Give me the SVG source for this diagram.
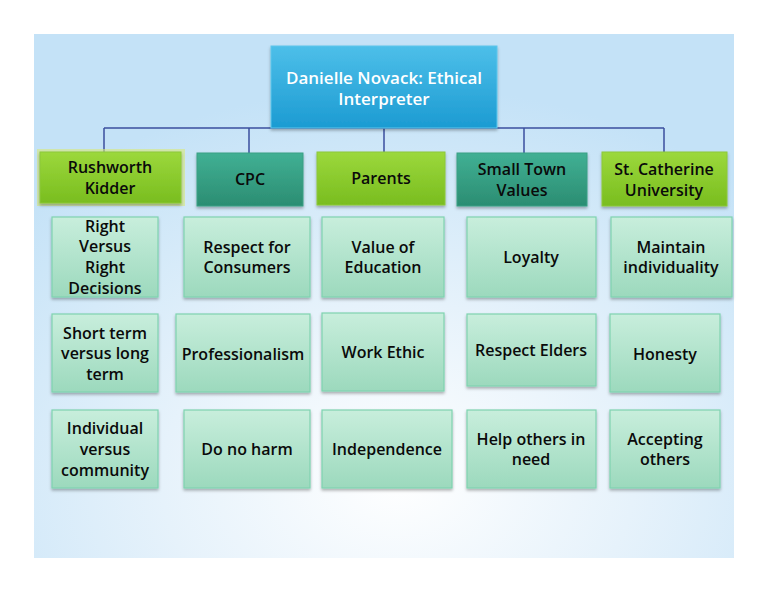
<svg xmlns="http://www.w3.org/2000/svg" width="768" height="594" viewBox="0 0 768 594">
<defs>
<radialGradient id="bg" cx="0.52" cy="0.85" r="0.75" fx="0.52" fy="0.85">
<stop offset="0" stop-color="#ffffff"/>
<stop offset="0.45" stop-color="#e6f2fb"/>
<stop offset="1" stop-color="#c4e2f7"/>
</radialGradient>
<linearGradient id="blue" x1="0" y1="0" x2="0" y2="1">
<stop offset="0" stop-color="#4dbfe9"/>
<stop offset="1" stop-color="#1c9bd2"/>
</linearGradient>
<linearGradient id="lime" x1="0" y1="0" x2="0" y2="1">
<stop offset="0" stop-color="#9cd83c"/>
<stop offset="1" stop-color="#79bd1f"/>
</linearGradient>
<linearGradient id="teal" x1="0" y1="0" x2="0" y2="1">
<stop offset="0" stop-color="#41b094"/>
<stop offset="1" stop-color="#2b8d72"/>
</linearGradient>
<linearGradient id="mint" x1="0" y1="0" x2="0" y2="1">
<stop offset="0" stop-color="#c8eedc"/>
<stop offset="1" stop-color="#9cd9bd"/>
</linearGradient>
<filter id="sh" x="-10%" y="-10%" width="120%" height="130%">
<feDropShadow dx="0" dy="2" stdDeviation="1.5" flood-color="#000" flood-opacity="0.3"/>
</filter>
</defs>
<style>
.t{font-family:"Open Sans","Noto Sans","DejaVu Sans",sans-serif;font-size:16px;font-weight:600;text-anchor:middle;dominant-baseline:central;fill:#0a0a0a}
.w{fill:#ffffff;font-size:17px;font-weight:600}
.top{fill:url(#blue);stroke:#5cc6ec;stroke-width:1;filter:url(#sh)}
.lime{fill:url(#lime);stroke:#8cc83a;stroke-width:1;filter:url(#sh)}
.teal{fill:url(#teal);stroke:#3a9f84;stroke-width:1;filter:url(#sh)}
.mint{fill:url(#mint);stroke:#7fd2b0;stroke-width:1.2;filter:url(#sh)}
.c{fill:none;stroke:#3b4f9e;stroke-width:1.5}
</style>
<rect x="34" y="34" width="700" height="524" fill="url(#bg)"/>
<g id="connectors">
<path class="c" d="M104 128 H664 M104 128 V152 M249 128 V153 M384 128 V152 M524 128 V153 M664 128 V152"/>
</g>
<g id="root">
<rect class="top" x="271" y="46" width="226" height="82"/>
<text class="t w" x="384" y="77">Danielle Novack: Ethical</text>
<text class="t w" x="384" y="98">Interpreter</text>
</g>
<g id="rushworth">
<rect x="37" y="149" width="148" height="57" fill="#d8ea7a" opacity="0.6"/>
<rect class="lime" x="40" y="152" width="141" height="51"/>
<text class="t" x="110" y="167">Rushworth</text>
<text class="t" x="110" y="188">Kidder</text>
</g>
<g id="cpc">
<rect class="teal" x="197" y="153" width="106" height="53"/>
<text class="t" x="250" y="179">CPC</text>
</g>
<g id="parents">
<rect class="lime" x="317" y="152" width="128" height="53"/>
<text class="t" x="381" y="178">Parents</text>
</g>
<g id="smalltown">
<rect class="teal" x="457" y="153" width="130" height="53"/>
<text class="t" x="522" y="169">Small Town</text>
<text class="t" x="522" y="190">Values</text>
</g>
<g id="stcatherine">
<rect class="lime" x="602" y="152" width="125" height="54"/>
<text class="t" x="664" y="169">St. Catherine</text>
<text class="t" x="664" y="190">University</text>
</g>
<g id="right-versus-right">
<rect class="mint" x="52" y="217" width="106" height="80"/>
<text class="t" x="105" y="226">Right</text>
<text class="t" x="105" y="246">Versus</text>
<text class="t" x="105" y="267">Right</text>
<text class="t" x="105" y="288">Decisions</text>
</g>
<g id="respect-consumers">
<rect class="mint" x="184" y="217" width="126" height="80"/>
<text class="t" x="247" y="247">Respect for</text>
<text class="t" x="247" y="267">Consumers</text>
</g>
<g id="value-education">
<rect class="mint" x="322" y="217" width="122" height="80"/>
<text class="t" x="383" y="247">Value of</text>
<text class="t" x="383" y="267">Education</text>
</g>
<g id="loyalty">
<rect class="mint" x="467" y="217" width="129" height="80"/>
<text class="t" x="531" y="257">Loyalty</text>
</g>
<g id="maintain">
<rect class="mint" x="611" y="217" width="121" height="80"/>
<text class="t" x="671" y="247">Maintain</text>
<text class="t" x="671" y="267">individuality</text>
</g>
<g id="short-long">
<rect class="mint" x="52" y="314" width="106" height="78"/>
<text class="t" x="105" y="333">Short term</text>
<text class="t" x="105" y="353">versus long</text>
<text class="t" x="105" y="374">term</text>
</g>
<g id="professionalism">
<rect class="mint" x="176" y="314" width="134" height="78"/>
<text class="t" x="243" y="354">Professionalism</text>
</g>
<g id="work-ethic">
<rect class="mint" x="322" y="313" width="122" height="78"/>
<text class="t" x="383" y="352">Work Ethic</text>
</g>
<g id="respect-elders">
<rect class="mint" x="467" y="314" width="129" height="72"/>
<text class="t" x="531" y="350">Respect Elders</text>
</g>
<g id="honesty">
<rect class="mint" x="610" y="314" width="110" height="78"/>
<text class="t" x="665" y="354">Honesty</text>
</g>
<g id="individual-community">
<rect class="mint" x="52" y="410" width="106" height="78"/>
<text class="t" x="105" y="428">Individual</text>
<text class="t" x="105" y="449">versus</text>
<text class="t" x="105" y="470">community</text>
</g>
<g id="do-no-harm">
<rect class="mint" x="184" y="410" width="126" height="78"/>
<text class="t" x="247" y="449">Do no harm</text>
</g>
<g id="independence">
<rect class="mint" x="322" y="410" width="130" height="78"/>
<text class="t" x="387" y="449">Independence</text>
</g>
<g id="help-others">
<rect class="mint" x="467" y="410" width="129" height="78"/>
<text class="t" x="531" y="439">Help others in</text>
<text class="t" x="531" y="459">need</text>
</g>
<g id="accepting">
<rect class="mint" x="610" y="410" width="110" height="78"/>
<text class="t" x="665" y="439">Accepting</text>
<text class="t" x="665" y="459">others</text>
</g>
</svg>
